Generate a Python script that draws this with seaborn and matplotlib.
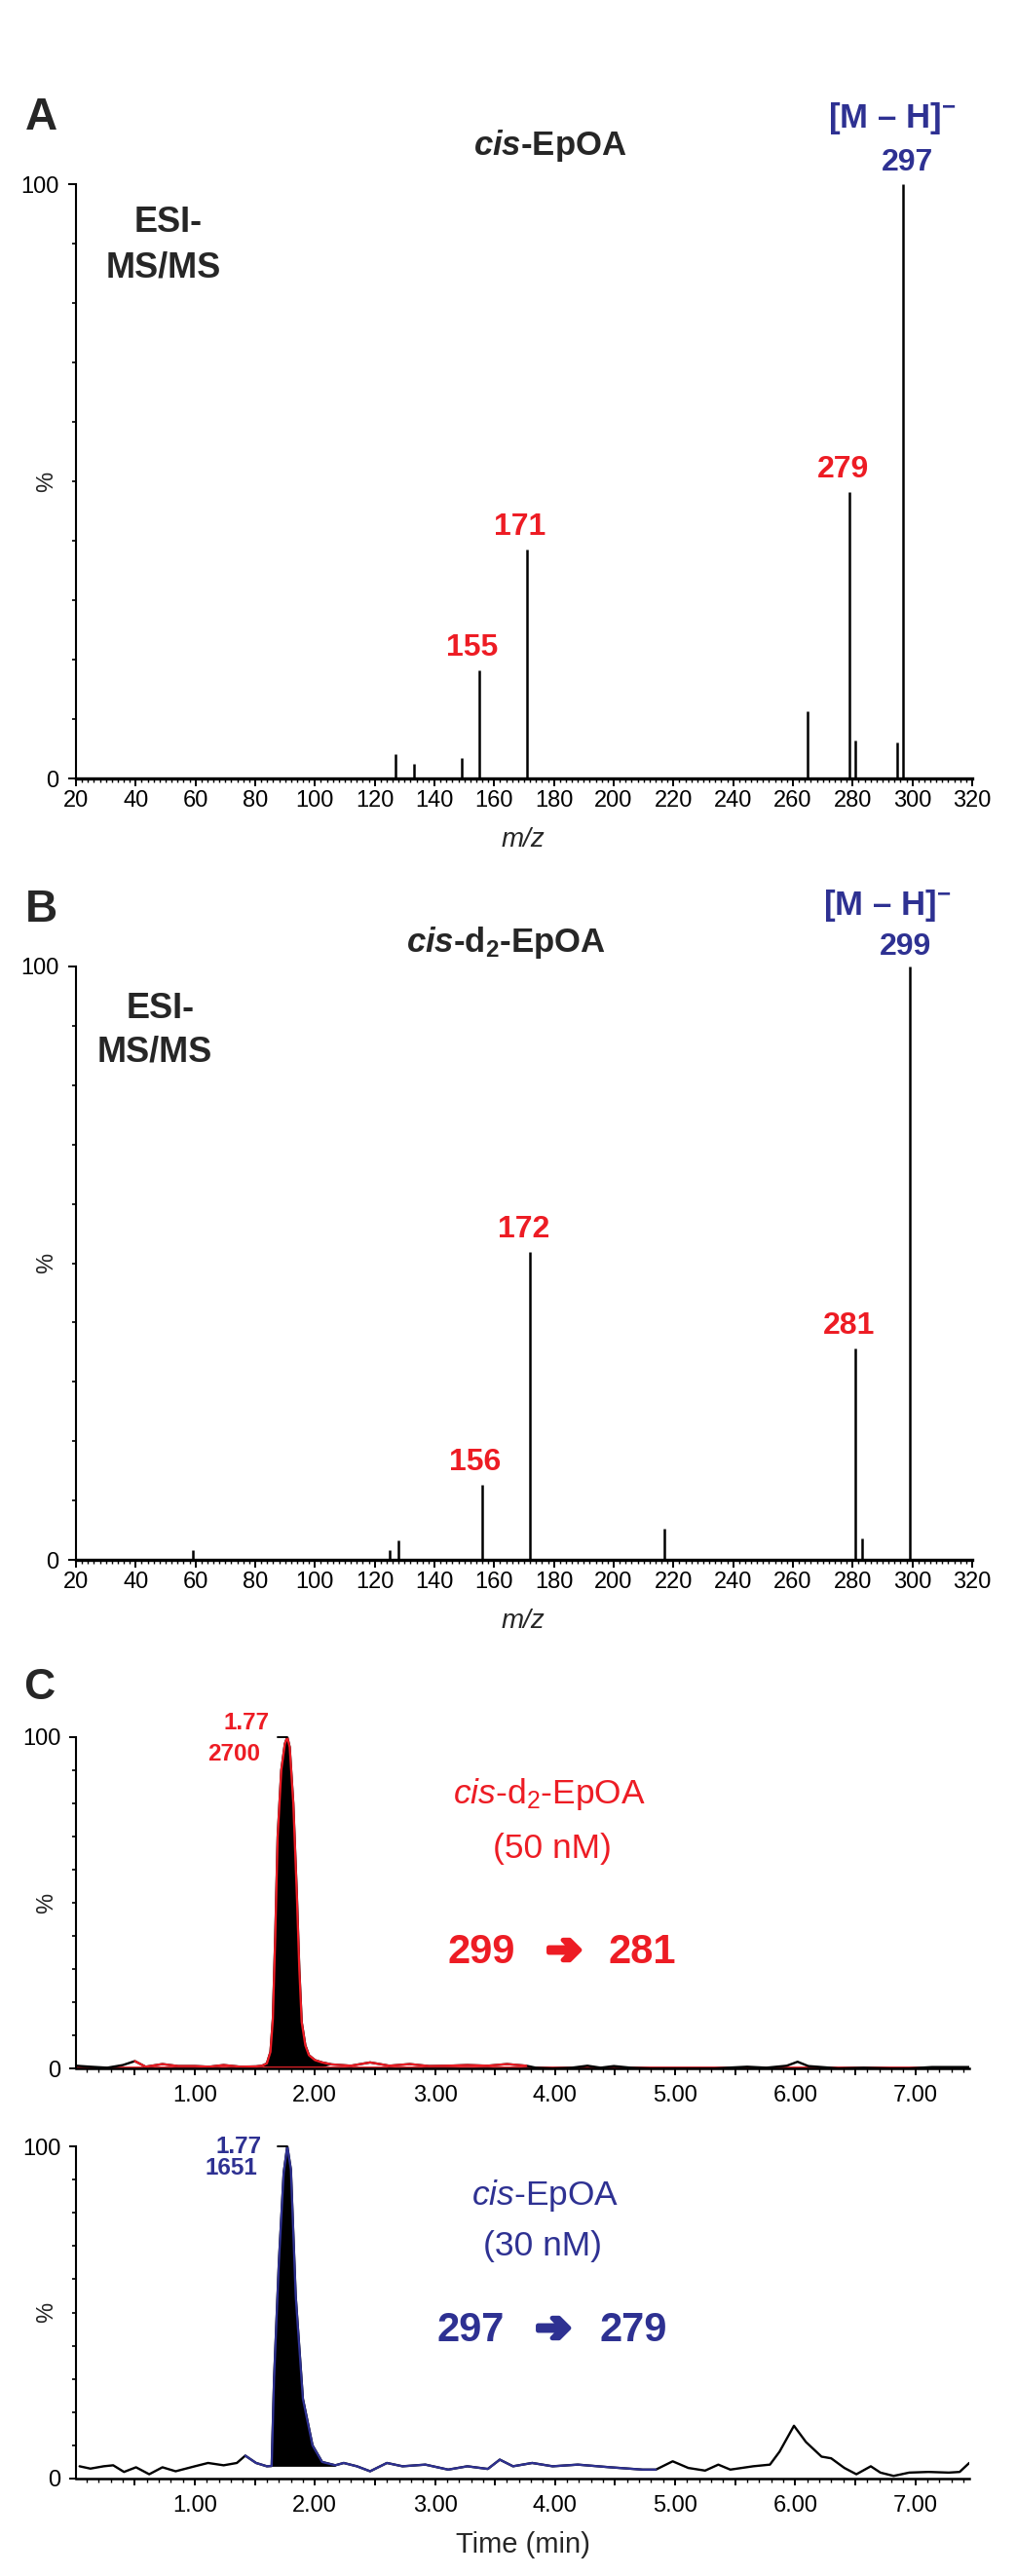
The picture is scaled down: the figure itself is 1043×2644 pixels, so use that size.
#---------------------------------------------------------------
"""
ESI-MS/MS product ion spectra of cis-EpOA and cis-d2-EpOA (A, B)
and the MRM chromatograms used for quantification (C).
"""
#---------------------------------------------------------------
import matplotlib
matplotlib.use('Agg')
import matplotlib.pyplot as plt
import matplotlib.patheffects as pe
import numpy as np
import seaborn as sns
from matplotlib.ticker import MultipleLocator, FixedLocator, FuncFormatter

RED = '#ed1c24'
NAVY = '#2e3192'
W, H = 1043, 2644

# panel A: cis-EpOA, [M - H]- 297
mz_a = [127, 133, 149, 155, 171, 265, 279, 281, 295, 297]
int_a = [4.1, 2.5, 3.4, 18.2, 38.5, 11.3, 48.2, 6.4, 6.1, 100]
lab_a = [155, 171, 279]

# panel B: cis-d2-EpOA, [M - H]- 299
mz_b = [59, 125, 128, 156, 172, 217, 281, 283, 299]
int_b = [1.6, 1.6, 3.3, 12.6, 51.9, 5.3, 35.6, 3.6, 100]
lab_b = [156, 172, 281]

# panel C, top: cis-d2-EpOA 299 -> 281 (50 nM)
t_d2 = [0.01, 0.13, 0.27, 0.40, 0.50, 0.59, 0.73, 0.86, 1.00, 1.12, 1.24, 1.38,
        1.51, 1.56, 1.60, 1.63, 1.65, 1.67, 1.69, 1.72, 1.75, 1.77, 1.79, 1.82,
        1.85, 1.87, 1.89, 1.92, 1.95, 2.00, 2.06, 2.14, 2.30, 2.46, 2.62, 2.79,
        2.95, 3.11, 3.27, 3.44, 3.60, 3.76, 3.84, 3.98, 4.14, 4.27, 4.38, 4.49,
        4.63, 4.79, 5.06, 5.33, 5.60, 5.76, 5.93, 6.02, 6.11, 6.22, 6.36, 6.57,
        6.79, 6.95, 7.14, 7.45]
i_d2 = [0.8, 0.5, 0.2, 1.0, 2.2, 0.5, 1.3, 0.7, 0.7, 0.5, 1.0, 0.5,
        0.6, 0.8, 1.5, 5.0, 15.0, 40.0, 70.0, 90.0, 98.0, 100.0, 97.0, 80.0,
        52.0, 30.0, 14.0, 7.0, 4.0, 2.5, 1.8, 1.2, 0.8, 1.8, 0.8, 1.3,
        0.7, 0.8, 1.0, 0.8, 1.3, 0.8, 0.2, 0.0, 0.2, 0.8, 0.2, 0.7,
        0.2, 0.0, 0.0, 0.0, 0.5, 0.2, 0.8, 2.0, 0.7, 0.4, 0.0, 0.2,
        0.0, 0.0, 0.4, 0.4]
d2_area = (1.60, 2.06)
d2_base = 0.5
d2_red = (0.45, 3.80)

# panel C, bottom: cis-EpOA 297 -> 279 (30 nM)
t_h = [0.04, 0.13, 0.24, 0.32, 0.41, 0.51, 0.62, 0.73, 0.84, 1.00, 1.11, 1.24,
       1.35, 1.42, 1.51, 1.60, 1.64, 1.66, 1.70, 1.74, 1.77, 1.80, 1.84, 1.90,
       1.98, 2.06, 2.17, 2.24, 2.35, 2.46, 2.60, 2.73, 2.92, 3.11, 3.27, 3.44,
       3.54, 3.65, 3.81, 3.98, 4.19, 4.46, 4.73, 4.84, 4.98, 5.11, 5.25, 5.36,
       5.46, 5.65, 5.79, 5.87, 5.99, 6.09, 6.22, 6.30, 6.41, 6.51, 6.63, 6.71,
       6.82, 6.95, 7.11, 7.28, 7.37, 7.45]
i_h = [3.7, 3.0, 3.7, 4.0, 2.0, 3.4, 1.3, 3.4, 2.2, 3.7, 4.7, 4.0,
       4.7, 6.9, 4.7, 3.7, 3.8, 30.0, 65.0, 92.0, 100.0, 93.0, 55.0, 24.0,
       10.0, 5.0, 4.0, 4.7, 3.7, 2.2, 4.7, 3.7, 4.2, 2.7, 3.7, 2.9,
       5.7, 3.7, 4.7, 3.7, 4.2, 3.4, 2.7, 2.7, 5.2, 3.2, 2.4, 4.2,
       2.7, 3.7, 4.2, 8.1, 15.9, 11.0, 6.6, 6.1, 3.2, 1.3, 3.7, 1.8,
       0.8, 1.8, 2.0, 1.8, 2.0, 4.7]
h_area = (1.64, 2.17)
h_base = 3.7
h_navy = (1.40, 4.95)


#---------------------------------------------------------------
def spectrum(ax, mz, inten, labels):
    ax.vlines(mz, 0, inten, color = 'black', lw = 1.8)
    for m, v in zip(mz, inten):
        if m in labels:
            ax.annotate(str(m), (m, v), xytext = (-7, 23), textcoords = 'offset pixels',
                        ha = 'center', va = 'center', color = RED,
                        fontsize = 23, fontweight = 'bold')
    ax.set_xlim(20, 320)
    ax.set_ylim(0, 100)
    ax.xaxis.set_major_locator(MultipleLocator(20))
    ax.xaxis.set_minor_locator(MultipleLocator(2))
    ax.yaxis.set_major_locator(FixedLocator([0, 100]))
    ax.yaxis.set_minor_locator(MultipleLocator(10))
    ax.tick_params(axis = 'x', which = 'major', length = 6, width = 1.4, pad = 2.5, labelsize = 17)
    ax.tick_params(axis = 'x', which = 'minor', length = 3, width = 1.0)
    ax.tick_params(axis = 'y', which = 'major', length = 6, width = 1.4, pad = 6.5, labelsize = 17)
    ax.tick_params(axis = 'y', which = 'minor', length = 3, width = 1.2)
    ax.set_xlabel('m/z', style = 'italic', fontsize = 20, va = 'center')
    ax.xaxis.set_label_coords(0.499, -63 / 610)
    ax.set_ylabel('%', fontsize = 17, va = 'center')
    ax.yaxis.set_label_coords(-30 / 920, 0.5)
    ax.spines['left'].set_linewidth(1.5)
    ax.spines['bottom'].set_linewidth(2.4)


#---------------------------------------------------------------
def chromatogram(ax, t, y, area, base, color, span):
    t = np.asarray(t)
    y = np.asarray(y)
    inside = (t >= area[0]) & (t <= area[1])
    ax.fill_between(t, y, base, where = inside, color = 'black', lw = 0, interpolate = True)
    sns.lineplot(x = t, y = y, ax = ax, color = 'black', lw = 1.7)
    seg = (t >= span[0]) & (t <= span[1])
    sns.lineplot(x = t[seg], y = y[seg], ax = ax, color = color, lw = 1.6)
    top = t[np.argmax(y)]
    ax.plot([top - 0.08, top], [100, 100], color = 'black', lw = 1.4, clip_on = False)
    ax.set_xlim(0.01, 7.45)
    ax.set_ylim(0, 100)
    ax.xaxis.set_major_locator(FixedLocator(np.arange(0.5, 7.5, 0.5)))
    ax.xaxis.set_major_formatter(FuncFormatter(lambda v, p: f'{v:.2f}' if abs(v - round(v)) < 1e-6 else ''))
    ax.xaxis.set_minor_locator(MultipleLocator(0.1))
    ax.yaxis.set_major_locator(FixedLocator([0, 100]))
    ax.yaxis.set_minor_locator(MultipleLocator(10))
    ax.tick_params(axis = 'x', which = 'major', length = 5, width = 1.4, pad = 7, labelsize = 17)
    ax.tick_params(axis = 'x', which = 'minor', length = 3, width = 1.0)
    ax.tick_params(axis = 'y', which = 'major', length = 5, width = 1.4, pad = 6, labelsize = 17)
    ax.tick_params(axis = 'y', which = 'minor', length = 3, width = 1.2)
    ax.set_xlabel('')
    ax.set_ylabel('%', fontsize = 17, va = 'center')
    ax.yaxis.set_label_coords(-30 / 917, 0.5)
    ax.spines['left'].set_linewidth(1.5)
    ax.spines['bottom'].set_linewidth(1.8)
    return top


#---------------------------------------------------------------
def main():
    sns.set_style('ticks')
    plt.rcParams['font.family'] = ['Liberation Sans', 'DejaVu Sans']
    plt.rcParams['mathtext.fontset'] = 'custom'
    plt.rcParams['mathtext.rm'] = 'Liberation Sans'
    plt.rcParams['mathtext.it'] = 'Liberation Sans:italic'
    plt.rcParams['mathtext.bf'] = 'Liberation Sans:bold'
    plt.rcParams['mathtext.sf'] = 'Liberation Sans:bold:italic'
    plt.rcParams['axes.edgecolor'] = 'black'
    plt.rcParams['xtick.color'] = 'black'
    plt.rcParams['ytick.color'] = 'black'

    fig = plt.figure(figsize = (W / 100, H / 100), dpi = 100)

    def box(l, t, r, b):
        return fig.add_axes([l / W, 1 - b / H, (r - l) / W, (b - t) / H])

    def ftext(x, y, s, **kw):
        kw.setdefault('ha', 'center')
        kw.setdefault('va', 'center')
        return fig.text(x / W, 1 - y / H, s, **kw)

    def arrow(x, y, color):
        txt = ftext(x, y, '➔', fontsize = 31, fontweight = 'bold', color = color)
        txt.set_path_effects([pe.withStroke(linewidth = 3.5, foreground = color)])

    ax_a = box(78, 189, 998, 799)
    ax_b = box(78, 992, 998, 1601)
    ax_c1 = box(78, 1783, 995, 2123)
    ax_c2 = box(78, 2203, 995, 2544)

    # A
    spectrum(ax_a, mz_a, int_a, lab_a)
    ftext(26, 121, 'A', ha = 'left', fontsize = 33, fontweight = 'bold')
    ftext(565, 150, r'$\mathsf{cis}$-EpOA', fontsize = 25, fontweight = 'bold')
    ftext(916, 122, r'[M – H]$^\mathbf{-}$', fontsize = 25, fontweight = 'bold', color = NAVY)
    ftext(931, 167, '297', fontsize = 23, fontweight = 'bold', color = NAVY)
    ftext(173, 228, 'ESI-', fontsize = 26, fontweight = 'bold')
    ftext(168, 275, 'MS/MS', fontsize = 26, fontweight = 'bold')

    # B
    spectrum(ax_b, mz_b, int_b, lab_b)
    ftext(26, 934, 'B', ha = 'left', fontsize = 33, fontweight = 'bold')
    ftext(520, 968, r'$\mathsf{cis}$-d$_\mathbf{2}$-EpOA', fontsize = 25, fontweight = 'bold')
    ftext(911, 930, r'[M – H]$^\mathbf{-}$', fontsize = 25, fontweight = 'bold', color = NAVY)
    ftext(929, 972, '299', fontsize = 23, fontweight = 'bold', color = NAVY)
    ftext(165, 1035, 'ESI-', fontsize = 26, fontweight = 'bold')
    ftext(159, 1080, 'MS/MS', fontsize = 26, fontweight = 'bold')

    # C
    ftext(24, 1733, 'C', ha = 'left', fontsize = 32, fontweight = 'bold')
    top = chromatogram(ax_c1, t_d2, i_d2, d2_area, d2_base, RED, d2_red)
    ax_c1.axhline(0.4, color = RED, lw = 1.3, zorder = 1)
    ax_c1.annotate('1.77', (top, 100), xytext = (-18, 14), textcoords = 'offset pixels',
                   ha = 'right', va = 'center', color = RED, fontsize = 17.5, fontweight = 'bold')
    ax_c1.annotate('2700', (top, 100), xytext = (-28, -18), textcoords = 'offset pixels',
                   ha = 'right', va = 'center', color = RED, fontsize = 17.5, fontweight = 'bold')
    ftext(564, 1842, r'$\mathit{cis}$-d$_2$-EpOA', fontsize = 25.5, color = RED)
    ftext(567, 1897, '(50 nM)', fontsize = 25.5, color = RED)
    ftext(494, 2004, '299', fontsize = 30, fontweight = 'bold', color = RED)
    arrow(579, 2004, RED)
    ftext(659, 2004, '281', fontsize = 30, fontweight = 'bold', color = RED)

    top = chromatogram(ax_c2, t_h, i_h, h_area, h_base, NAVY, h_navy)
    ax_c2.annotate('1.77', (top, 100), xytext = (-26, -1), textcoords = 'offset pixels',
                   ha = 'right', va = 'center', color = NAVY, fontsize = 17.5, fontweight = 'bold')
    ax_c2.annotate('1651', (top, 100), xytext = (-31, -22), textcoords = 'offset pixels',
                   ha = 'right', va = 'center', color = NAVY, fontsize = 17.5, fontweight = 'bold')
    ftext(560, 2253, r'$\mathit{cis}$-EpOA', fontsize = 25.5, color = NAVY)
    ftext(557, 2305, '(30 nM)', fontsize = 25.5, color = NAVY)
    ftext(483, 2392, '297', fontsize = 30, fontweight = 'bold', color = NAVY)
    arrow(568, 2392, NAVY)
    ftext(650, 2392, '279', fontsize = 30, fontweight = 'bold', color = NAVY)
    ax_c2.set_xlabel('Time (min)', fontsize = 21, va = 'center')
    ax_c2.xaxis.set_label_coords(0.5, -68 / 341)

    sns.despine(fig = fig)
    fig.savefig('out.png', dpi = 100)


#---------------------------------------------------------------
if __name__ == '__main__':
    main()
